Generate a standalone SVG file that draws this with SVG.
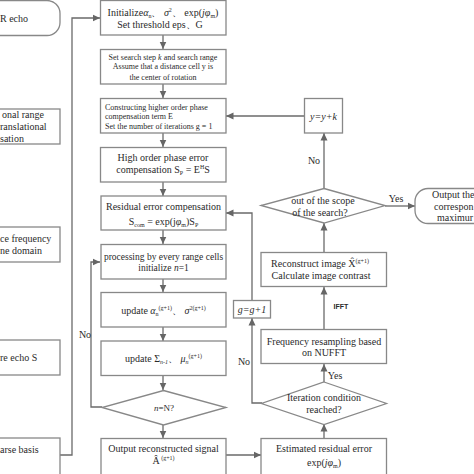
<svg xmlns="http://www.w3.org/2000/svg" width="474" height="474" viewBox="0 0 474 474">
<defs>
<marker id="ah" markerWidth="9" markerHeight="9" refX="7.5" refY="4.5" orient="auto" markerUnits="userSpaceOnUse">
<path d="M0,1 L7.5,4.5 L0,8 Z" fill="#666"/>
</marker>
<style>
.box{fill:#fff;stroke:#888;stroke-width:1.3}
.c{fill:none;stroke:#6a6a6a;stroke-width:1.3}
text{font-family:"Liberation Serif","Times New Roman",serif;fill:#2a2a2a;font-size:10px}
.m{text-anchor:middle}
.s{font-size:8px}
.sub{font-size:6px}
.it{font-style:italic}
.sans{font-family:"Liberation Sans",Arial,sans-serif;font-size:7px;font-weight:bold}
</style>
</defs>

<g id="connectors">
<line class="c" x1="163" y1="35" x2="163" y2="49" marker-end="url(#ah)"/>
<line class="c" x1="163" y1="84" x2="163" y2="98" marker-end="url(#ah)"/>
<line class="c" x1="163" y1="133" x2="163" y2="147" marker-end="url(#ah)"/>
<line class="c" x1="163" y1="182" x2="163" y2="196" marker-end="url(#ah)"/>
<line class="c" x1="163" y1="230" x2="163" y2="244" marker-end="url(#ah)"/>
<line class="c" x1="163" y1="279" x2="163" y2="292" marker-end="url(#ah)"/>
<line class="c" x1="163" y1="327" x2="163" y2="341" marker-end="url(#ah)"/>
<line class="c" x1="163" y1="375" x2="163" y2="390" marker-end="url(#ah)"/>
<line class="c" x1="163" y1="425" x2="163" y2="438" marker-end="url(#ah)"/>
<polyline class="c" points="102,407 91,407 91,262 100,262" marker-end="url(#ah)"/>
<polyline class="c" points="60,455 72,455 72,18 100,18" marker-end="url(#ah)"/>
<line class="c" x1="226" y1="455" x2="261" y2="455" marker-end="url(#ah)"/>
<line class="c" x1="324" y1="438" x2="324" y2="424" marker-end="url(#ah)"/>
<line class="c" x1="324" y1="382" x2="324" y2="364" marker-end="url(#ah)"/>
<line class="c" x1="324" y1="329" x2="324" y2="287" marker-end="url(#ah)"/>
<line class="c" x1="324" y1="252" x2="324" y2="223" marker-end="url(#ah)"/>
<line class="c" x1="324" y1="188" x2="324" y2="133" marker-end="url(#ah)"/>
<line class="c" x1="304" y1="116" x2="226" y2="116" marker-end="url(#ah)"/>
<line class="c" x1="385" y1="206" x2="415" y2="206" marker-end="url(#ah)"/>
<polyline class="c" points="262,403 252,403 252,318" marker-end="url(#ah)"/>
<polyline class="c" points="252,300 252,213 226,213" marker-end="url(#ah)"/>
<text x="85" y="338" class="m">No</text>
<text x="244" y="365" class="m">No</text>
<text x="335" y="379" class="m">Yes</text>
<text x="341" y="309" class="m sans">IFFT</text>
<text x="314" y="164" class="m">No</text>
<text x="396" y="202" class="m">Yes</text>
</g>

<g id="left1"><rect class="box" x="-30" y="0.5" width="90" height="35" rx="13"/><text x="0" y="22">R echo</text></g>
<g id="left2"><rect class="box" x="-10" y="109" width="70" height="35"/><text x="2" y="118">onal range</text><text x="0" y="130">ranslational</text><text x="0" y="142">sation</text></g>
<g id="left3"><rect class="box" x="-10" y="227" width="70" height="35"/><text x="0" y="242">ce frequency</text><text x="0" y="254">ne domain</text></g>
<g id="left4"><rect class="box" x="-10" y="340" width="70" height="35"/><text x="0" y="361">re echo S</text></g>
<g id="left5"><rect class="box" x="-10" y="438" width="70" height="40"/><text x="0" y="453">arse basis</text></g>

<g id="n1"><rect class="box" x="100.5" y="0.5" width="125.5" height="34.5"/>
<text x="163" y="16" class="m">Initialize<tspan class="it">α</tspan><tspan class="sub" dy="2">n</tspan><tspan dy="-2">、 </tspan><tspan class="it">σ</tspan><tspan class="sub" dy="-4">2</tspan><tspan dy="4">、 exp(</tspan><tspan class="it">jφ</tspan><tspan class="sub" dy="2">m</tspan><tspan dy="-2">)</tspan></text>
<text x="160" y="28" class="m">Set threshold eps、G</text></g>

<g id="n2"><rect class="box" x="100.5" y="49.5" width="125.5" height="34.5"/>
<text x="163" y="59.5" class="m s">Set search step <tspan class="it">k</tspan> and search range</text>
<text x="163" y="69" class="m s">Assume that a distance cell y is</text>
<text x="163" y="80" class="m s">the center of rotation</text></g>

<g id="n3"><rect class="box" x="100.5" y="98.5" width="125.5" height="34.5"/>
<text x="105" y="109.5" class="s">Constructing higher order phase</text>
<text x="105" y="119" class="s">compensation term E</text>
<text x="105" y="128.5" class="s">Set the number of iterations g = 1</text></g>

<g id="n4"><rect class="box" x="100.5" y="147.5" width="125.5" height="34.5"/>
<text x="163" y="161" class="m">High order phase error</text>
<text x="163" y="172.5" class="m">compensation S<tspan class="sub" dy="2">P</tspan><tspan dy="-2"> = E</tspan><tspan class="sub" dy="-4">H</tspan><tspan dy="4">S</tspan></text></g>

<g id="n5"><rect class="box" x="101" y="196" width="125" height="34"/>
<text x="163.5" y="209.5" class="m">Residual error compensation</text>
<text x="163.5" y="225" class="m">S<tspan class="sub" dy="2">com</tspan><tspan dy="-2"> = exp(j</tspan><tspan class="it">φ</tspan><tspan class="sub" dy="2">m</tspan><tspan dy="-2">)S</tspan><tspan class="sub" dy="2">P</tspan></text></g>

<g id="n6"><rect class="box" x="101" y="244.5" width="125" height="34.5"/>
<text x="163.5" y="259.5" class="m" style="font-size:9.5px">processing by every range cells</text>
<text x="163.5" y="270.5" class="m" style="font-size:9.5px">initialize <tspan class="it">n</tspan>=1</text></g>

<g id="n7"><rect class="box" x="101" y="292.5" width="125" height="34.5"/>
<text x="163.5" y="313.5" class="m">update <tspan class="it">α</tspan><tspan class="sub" dy="2">n</tspan><tspan class="sub" dy="-6">(g+1)</tspan><tspan dy="4">、 </tspan><tspan class="it">σ</tspan><tspan class="sub" dy="-4">2(g+1)</tspan></text></g>

<g id="n8"><rect class="box" x="101" y="341" width="125" height="34.5"/>
<text x="163.5" y="361.5" class="m">update Σ<tspan class="sub it" dy="2">n-1</tspan><tspan dy="-2">、 </tspan><tspan class="it">μ</tspan><tspan class="sub it" dy="2">n</tspan><tspan class="sub" dy="-6">(g+1)</tspan></text></g>

<g id="n9"><polygon class="box" points="163.5,390.5 226,407.5 163.5,425 102,407.5"/>
<text x="164" y="411" class="m" style="font-size:9px"><tspan class="it">n</tspan>=N?</text></g>

<g id="n10"><rect class="box" x="101" y="438.5" width="125" height="40"/>
<text x="163.5" y="452" class="m">Output reconstructed signal</text>
<text x="163.5" y="464" class="m">Â<tspan class="sub" dy="-4"> (g+1)</tspan></text></g>

<g id="r1"><rect class="box" x="261" y="438.5" width="125.5" height="40"/>
<text x="324" y="452" class="m">Estimated residual error</text>
<text x="324" y="466" class="m">exp(<tspan class="it">jφ</tspan><tspan class="sub" dy="2">m</tspan><tspan dy="-2">)</tspan></text></g>

<g id="r2"><polygon class="box" points="324,382 386.5,403.5 324,424.5 261.5,403.5"/>
<text x="324" y="401" class="m">Iteration condition</text>
<text x="324" y="412.5" class="m">reached?</text></g>

<g id="r3"><rect class="box" x="261" y="329.5" width="125.5" height="34"/>
<text x="324" y="344.5" class="m">Frequency resampling based</text>
<text x="324" y="356" class="m">on NUFFT</text></g>

<g id="r4"><rect class="box" x="261" y="252.5" width="125.5" height="34"/>
<text x="320" y="267" class="m">Reconstruct image X̂<tspan class="sub" dy="-4">(g+1)</tspan></text>
<text x="321" y="279" class="m">Calculate image contrast</text></g>

<g id="r5"><polygon class="box" points="324,188.5 385,205.5 324,223 261,205.5"/>
<text x="323" y="203.5" class="m">out of the scope</text>
<text x="320" y="215.5" class="m">of the search?</text></g>

<g id="r6"><rect class="box" x="304.5" y="98.5" width="38" height="34.5"/>
<text x="323.5" y="119.5" class="m it">y=y+k</text></g>

<g id="r7"><rect class="box" x="233.5" y="300.5" width="37" height="17.5"/>
<text x="252" y="313" class="m it">g=g+1</text></g>

<g id="r8"><rect class="box" x="415" y="188.5" width="80" height="35" rx="13"/>
<text x="432" y="198">Output the</text>
<text x="434" y="210">correspon</text>
<text x="437" y="221">maximur</text></g>
</svg>
